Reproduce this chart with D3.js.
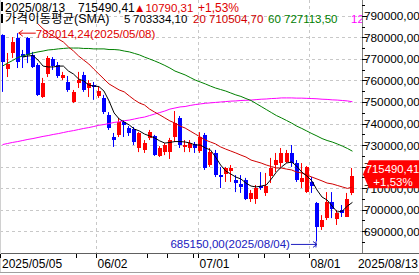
<!DOCTYPE html>
<html>
<head>
<meta charset="utf-8">
<script src="https://cdn.jsdelivr.net/npm/d3@7"></script>
<style>
  html, body { margin: 0; padding: 0; background: #fff; }
  svg { display: block; font-family: "Liberation Sans", Arial, "Noto Sans CJK KR", sans-serif; }
</style>
</head>
<body>
<svg id="chart" width="419" height="275"></svg>
<script>
// 거래일 (MM/DD, 2025)
const dates = [
  '05/05','05/06','05/07','05/08','05/09','05/12','05/13','05/14','05/15','05/16',
  '05/19','05/20','05/21','05/22','05/23','05/27','05/28','05/29','05/30',
  '06/02','06/03','06/04','06/05','06/06','06/09','06/10','06/11','06/12','06/13',
  '06/16','06/17','06/18','06/20','06/23','06/24','06/25','06/26','06/27','06/30',
  '07/01','07/02','07/03','07/07','07/08','07/09','07/10','07/11','07/14','07/15',
  '07/16','07/17','07/18','07/21','07/22','07/23','07/24','07/25','07/28','07/29',
  '07/30','07/31','08/01','08/04','08/05','08/06','08/07','08/08','08/11','08/12','08/13'
];

const opens = [
  781200,765300,772800,779800,772300,779800,771900,767200,752300,763000,
  770000,767200,761200,759300,750000,758800,762600,756500,757900,752800,
  751900,744000,733700,734700,740700,737900,737400,728600,727700,733300,
  734200,724900,726700,726700,733700,742600,729100,728600,730500,727200,
  734700,720700,726300,716000,716500,717900,713700,711900,713700,704900,
  704900,710900,707700,715600,720700,721600,722100,726300,721600,712800,
  708100,712800,703000,691900,696000,703500,695600,699800,696500,707700
];
const highs = [
  781500,772800,780200,782014.24,774200,780200,773300,768100,761200,771400,
  770900,768600,764000,762100,755600,764000,764000,760200,759300,757000,
  753300,745300,735600,742600,741600,738800,738400,736000,732300,737000,
  734700,729500,730900,733300,745800,743500,732300,732300,731400,736000,
  735600,728600,727700,719800,719800,720700,716000,716000,714700,709100,
  711400,717400,717000,724000,726300,728600,727700,730000,723000,721600,
  720200,715100,703500,697400,708100,708100,699800,702100,707700,719300
];
const lows = [
  754700,761600,770500,765800,765800,768100,765800,752800,751900,761600,
  764900,761200,760200,754700,749500,756500,754700,752300,751000,751900,
  744400,737000,729100,733700,733700,734200,730000,726700,726300,732300,
  724900,724400,725300,723500,731400,728600,726700,726700,726300,726300,
  718400,719800,715100,710000,712800,712800,708100,707700,704400,703500,
  702600,709100,706300,712300,717400,719800,721600,719800,712800,710000,
  707700,707700,685150,690500,695100,696000,692800,696500,696500,706700
];
const closes = [
  768600,767700,777900,768600,770900,771900,766300,753300,758800,770500,
  766700,762100,762600,755600,754700,760200,755600,758800,757000,755100,
  745300,737900,732300,740700,739300,735600,731400,735600,730900,736000,
  725300,728600,730000,732300,740200,730000,730000,730900,728600,733700,
  719300,726700,716000,715100,719300,719300,712300,710500,704900,707700,
  710000,710000,710900,719300,723000,726300,726300,721600,713700,714700,
  719800,710900,691900,695100,703500,700200,698400,698400,704700.10,715490.41
];

// 가격이동평균 (그림에서 읽은 값, 천 단위)
const sma5 = [
  null,null,null,null,770.9,771.4,771.6,769.5,766.7,766.3,
  766.3,766.7,766.7,764.4,763.0,760.7,759.8,757.9,757.4,757.2,
  755.1,750.5,744.9,742.1,740.7,739.3,737.4,736.5,735.1,734.2,
  733.3,731.9,730.9,731.2,731.6,731.6,731.4,730.9,730.0,730.0,
  728.6,727.7,724.4,720.7,717.9,716.5,715.1,714.2,712.3,710.9,
  710.5,710.9,711.4,714.2,717.4,719.8,721.6,722.1,720.2,717.4,
  715.6,713.3,709.1,705.8,704.4,701.6,698.8,699.3,701.6,703.3341
];
const sma20 = [
  null,null,null,null,null,null,null,786.3,784.0,782.1,
  780.7,779.3,777.9,775.6,773.7,771.4,769.5,767.7,765.3,763.0,
  760.7,758.4,757.0,755.6,754.7,752.8,751.0,749.5,748.6,746.7,
  745.3,744.0,742.6,741.2,740.2,738.8,737.9,736.5,735.1,733.7,
  732.3,731.4,730.5,729.1,728.1,727.2,726.3,725.3,724.4,723.0,
  722.3,721.6,720.7,720.0,719.3,719.3,718.8,718.4,717.4,717.0,
  716.0,715.1,714.2,713.3,712.3,711.9,711.2,710.5,709.8,710.5047
];
const sma60 = [
  766.7,768.1,769.3,770.7,771.4,772.1,772.8,773.3,773.7,774.2,
  774.4,774.7,774.9,775.1,775.1,775.1,774.9,774.9,774.7,774.7,
  774.7,774.4,774.4,774.2,773.7,773.3,772.6,771.9,770.9,770.0,
  769.1,768.1,767.0,765.8,764.4,763.5,762.6,761.4,760.2,759.3,
  758.4,757.4,756.5,755.8,755.1,754.2,753.3,752.6,751.6,750.7,
  749.3,747.9,746.5,745.1,743.7,742.6,741.4,740.2,738.8,737.7,
  736.5,735.3,734.2,733.0,732.1,731.4,730.5,729.5,728.4,727.1135
];
const sma120 = [
  730.2,730.7,731.2,731.6,732.1,732.6,733.0,733.5,734.0,734.4,
  734.9,735.3,735.8,736.3,736.7,737.2,737.7,738.1,738.6,739.2,
  739.5,740.0,740.5,740.8,741.3,741.6,742.1,742.6,743.0,743.7,
  744.4,745.1,745.8,746.7,747.2,747.7,747.9,748.4,748.8,749.1,
  749.4,749.6,749.8,750.0,750.2,750.4,750.5,750.7,750.8,750.9,
  751.1,751.3,751.4,751.6,751.7,751.9,751.9,751.9,751.8,751.8,
  751.7,751.6,751.5,751.3,751.2,751.0,750.9,750.7,750.5,750.1
];

// 축 라벨
const priceTicks = d3.range(690000, 790001, 10000);
const labelDates = ['05/05', '06/02', '07/01', '08/01'];
const labelTexts = ['2025/05/05', '06/02', '07/01', '08/01'];
const weekStarts = ['05/05','05/12','05/19','05/27','06/02','06/09','06/16','06/23',
                    '06/30','07/07','07/14','07/21','07/28','08/04','08/11'];
const lastLabel = '2025/08/13';
const highLabel = '782014,24(2025/05/08)';
const lowLabel = '685150,00(2025/08/04)';

const svg = d3.select('#chart');
const plotW = 362, plotH = 253;

const x = d3.scaleBand().domain(dates).range([0, 355]).paddingInner(0.2).paddingOuter(0.1);
const y = d3.scaleLinear().domain([679770, 797440]).range([plotH, 0]);
const step = x.step();
const cx = d => x(d) + x.bandwidth() / 2;
const gx = d => Math.round(x(d) - step * 0.1) + 0.5;

const fmt = v => v.toFixed(2).replace('.', ',');

svg.append('rect').attr('width', 419).attr('height', 275).attr('fill', '#fff');

svg.append('clipPath').attr('id', 'plotclip')
  .append('rect').attr('width', plotW).attr('height', plotH);

const plot = svg.append('g').attr('clip-path', 'url(#plotclip)');

// 격자
plot.selectAll('.hgrid').data(priceTicks).enter().append('line')
  .attr('x1', 0).attr('x2', plotW)
  .attr('y1', d => Math.round(y(d)) + 0.5).attr('y2', d => Math.round(y(d)) + 0.5)
  .attr('stroke', '#c8c8c8').attr('stroke-dasharray', '3,3');
plot.selectAll('.vgrid').data(labelDates.slice(1)).enter().append('line')
  .attr('x1', gx).attr('x2', gx).attr('y1', 0).attr('y2', plotH)
  .attr('stroke', '#c8c8c8').attr('stroke-dasharray', '3,3');

// 캔들
const idx = d3.range(dates.length);
const candleColor = i => closes[i] >= opens[i] ? '#ff0000' : '#0000ff';
const bx = i => Math.round(cx(dates[i]) - 2);

plot.selectAll('.wick').data(idx).enter().append('line')
  .attr('x1', i => bx(i) + 1.5).attr('x2', i => bx(i) + 1.5)
  .attr('y1', i => y(highs[i])).attr('y2', i => y(lows[i]))
  .attr('stroke', candleColor).attr('stroke-width', 1);

plot.selectAll('.body').data(idx).enter().append('rect')
  .attr('x', bx).attr('width', 4)
  .attr('y', i => y(Math.max(opens[i], closes[i])))
  .attr('height', i => Math.max(1, Math.abs(y(opens[i]) - y(closes[i]))))
  .attr('fill', candleColor)
  .attr('shape-rendering', 'crispEdges');

// 이동평균선
const maLine = d3.line()
  .defined(d => d[1] != null)
  .x(d => cx(d[0]))
  .y(d => y(d[1] * 1000));

[[sma120, '#ff00ff'], [sma60, '#008000'], [sma20, '#d00000'], [sma5, '#000000']].forEach(([s, c]) => {
  plot.append('path')
    .datum(dates.map((d, i) => [d, s[i]]))
    .attr('d', maLine)
    .attr('fill', 'none').attr('stroke', c).attr('stroke-width', 1);
});

// 최고/최저 표시
const iHigh = highs.indexOf(d3.max(highs));
const iLow = lows.indexOf(d3.min(lows));
const hx = cx(dates[iHigh]) + 1, hy = y(highs[iHigh]);
plot.append('path')
  .attr('d', `M${hx},${hy} L${hx + 17},${hy} M${hx},${hy} l4,-3 M${hx},${hy} l4,3`)
  .attr('stroke', '#e00000').attr('fill', 'none');
plot.append('text').attr('x', hx + 17).attr('y', hy + 5)
  .attr('font-size', 11.5).attr('fill', '#e00000').text(highLabel);

const lx = cx(dates[iLow]), ly = y(lows[iLow]) + 3;
plot.append('path')
  .attr('d', `M${lx - 26},${ly} L${lx},${ly} M${lx},${ly} l-4,-3 M${lx},${ly} l-4,3 M${lx - 1},${ly - 3} l0,6`)
  .attr('stroke', '#2020c0').attr('fill', 'none');
plot.append('text').attr('x', lx - 27).attr('y', ly + 4).attr('text-anchor', 'end')
  .attr('font-size', 11.5).attr('fill', '#2020c0').text(lowLabel);

// 범례
const last = dates.length - 1;
const chg = closes[last] - closes[last - 1];
const pct = chg / closes[last - 1] * 100;
const pctText = '+' + pct.toFixed(2).replace('.', ',') + '%';
const legend = plot.append('g');
legend.append('rect').attr('x', 1).attr('y', 2).attr('width', 2).attr('height', 9).attr('fill', '#000');
legend.append('rect').attr('x', 1).attr('y', 14).attr('width', 2).attr('height', 9).attr('fill', '#000');
const row1 = [
  [5, '2025/08/13', '#000', 12],
  [78, fmt(closes[last]), '#000', 12],
  [134, '▲' + fmt(chg), '#e00000', 11.5],
  [198, pctText, '#e00000', 12]
];
const row2 = [
  [5, '가격이동평균(SMA)', '#000', 12.5],
  [124, '5', '#000', 11.5],
  [133, fmt(sma5[last] * 1000), '#000', 11.5],
  [193, '20 ' + fmt(sma20[last] * 1000), '#d00000', 11.5],
  [268, '60 ' + fmt(sma60[last] * 1000), '#008000', 11.5],
  [351, '120', '#ff00ff', 11.5]
];
legend.selectAll('.r1').data(row1).enter().append('text')
  .attr('x', d => d[0]).attr('y', 11.5).attr('font-size', d => d[3])
  .attr('fill', d => d[2]).text(d => d[1]);
legend.selectAll('.r2').data(row2).enter().append('text')
  .attr('x', d => d[0]).attr('y', 23).attr('font-size', d => d[3])
  .attr('fill', d => d[2]).text(d => d[1]);

// 오른쪽 가격축
svg.append('line').attr('x1', plotW + 0.5).attr('x2', plotW + 0.5).attr('y1', 0).attr('y2', plotH)
  .attr('stroke', '#808080');
const minorTicks = d3.range(685000, 795001, 5000).filter(v => v % 10000 !== 0);
svg.selectAll('.mt').data(minorTicks).enter().append('line')
  .attr('x1', plotW).attr('x2', plotW + 3)
  .attr('y1', d => Math.round(y(d)) + 0.5).attr('y2', d => Math.round(y(d)) + 0.5)
  .attr('stroke', '#000');
svg.selectAll('.MT').data(priceTicks).enter().append('line')
  .attr('x1', plotW).attr('x2', plotW + 5)
  .attr('y1', d => Math.round(y(d)) + 0.5).attr('y2', d => Math.round(y(d)) + 0.5)
  .attr('stroke', '#000');
svg.selectAll('.pl').data(priceTicks).enter().append('text')
  .attr('x', plotW + 2).attr('y', d => y(d) + 4.5)
  .attr('font-size', 11.8).attr('fill', '#000').text(d => fmt(d));

// 현재가 박스
const py = y(closes[last]);
svg.append('path')
  .attr('d', `M${plotW + 1},${py - 2} L${plotW + 7},${py - 16} L419,${py - 16} L419,${py + 12} L${plotW + 7},${py + 12} Z`)
  .attr('fill', '#ff0000');
svg.append('text').attr('x', 392.5).attr('y', py - 3.5).attr('text-anchor', 'middle')
  .attr('font-size', 11.3).attr('fill', '#fff').text(fmt(closes[last]));
svg.append('text').attr('x', 393).attr('y', py + 9.5).attr('text-anchor', 'middle')
  .attr('font-size', 11.5).attr('fill', '#fff').text(pctText);

// 날짜축
svg.append('line').attr('x1', 0).attr('x2', 419).attr('y1', plotH + 0.5).attr('y2', plotH + 0.5)
  .attr('stroke', '#606060');
svg.append('line').attr('x1', 0).attr('x2', 419).attr('y1', 272.5).attr('y2', 272.5)
  .attr('stroke', '#a0a0a0');
svg.append('line').attr('x1', 0.5).attr('x2', 0.5).attr('y1', 0).attr('y2', 272)
  .attr('stroke', '#d0d0d0');
svg.selectAll('.wt').data(weekStarts.concat(labelDates)).enter().append('line')
  .attr('x1', gx).attr('x2', gx).attr('y1', plotH + 1).attr('y2', plotH + 5)
  .attr('stroke', '#000');
labelDates.forEach((d, i) => {
  const tx = i === 0 ? 2 : gx(d) + 1;
  const g = svg.append('g');
  const bg = g.append('rect').attr('x', tx + 1).attr('y', plotH + 1).attr('height', 17).attr('fill', '#fff');
  const t = g.append('text').attr('x', tx).attr('y', 268).attr('font-size', 12)
    .attr('fill', '#000').text(labelTexts[i]);
  bg.attr('width', t.node().getComputedTextLength());
});
svg.append('rect').attr('x', 356).attr('y', plotH + 1).attr('width', 63).attr('height', 18).attr('fill', '#fff');
svg.append('text').attr('x', 418).attr('y', 268).attr('text-anchor', 'end')
  .attr('font-size', 12).attr('fill', '#000').text(lastLabel);
</script>
</body>
</html>
